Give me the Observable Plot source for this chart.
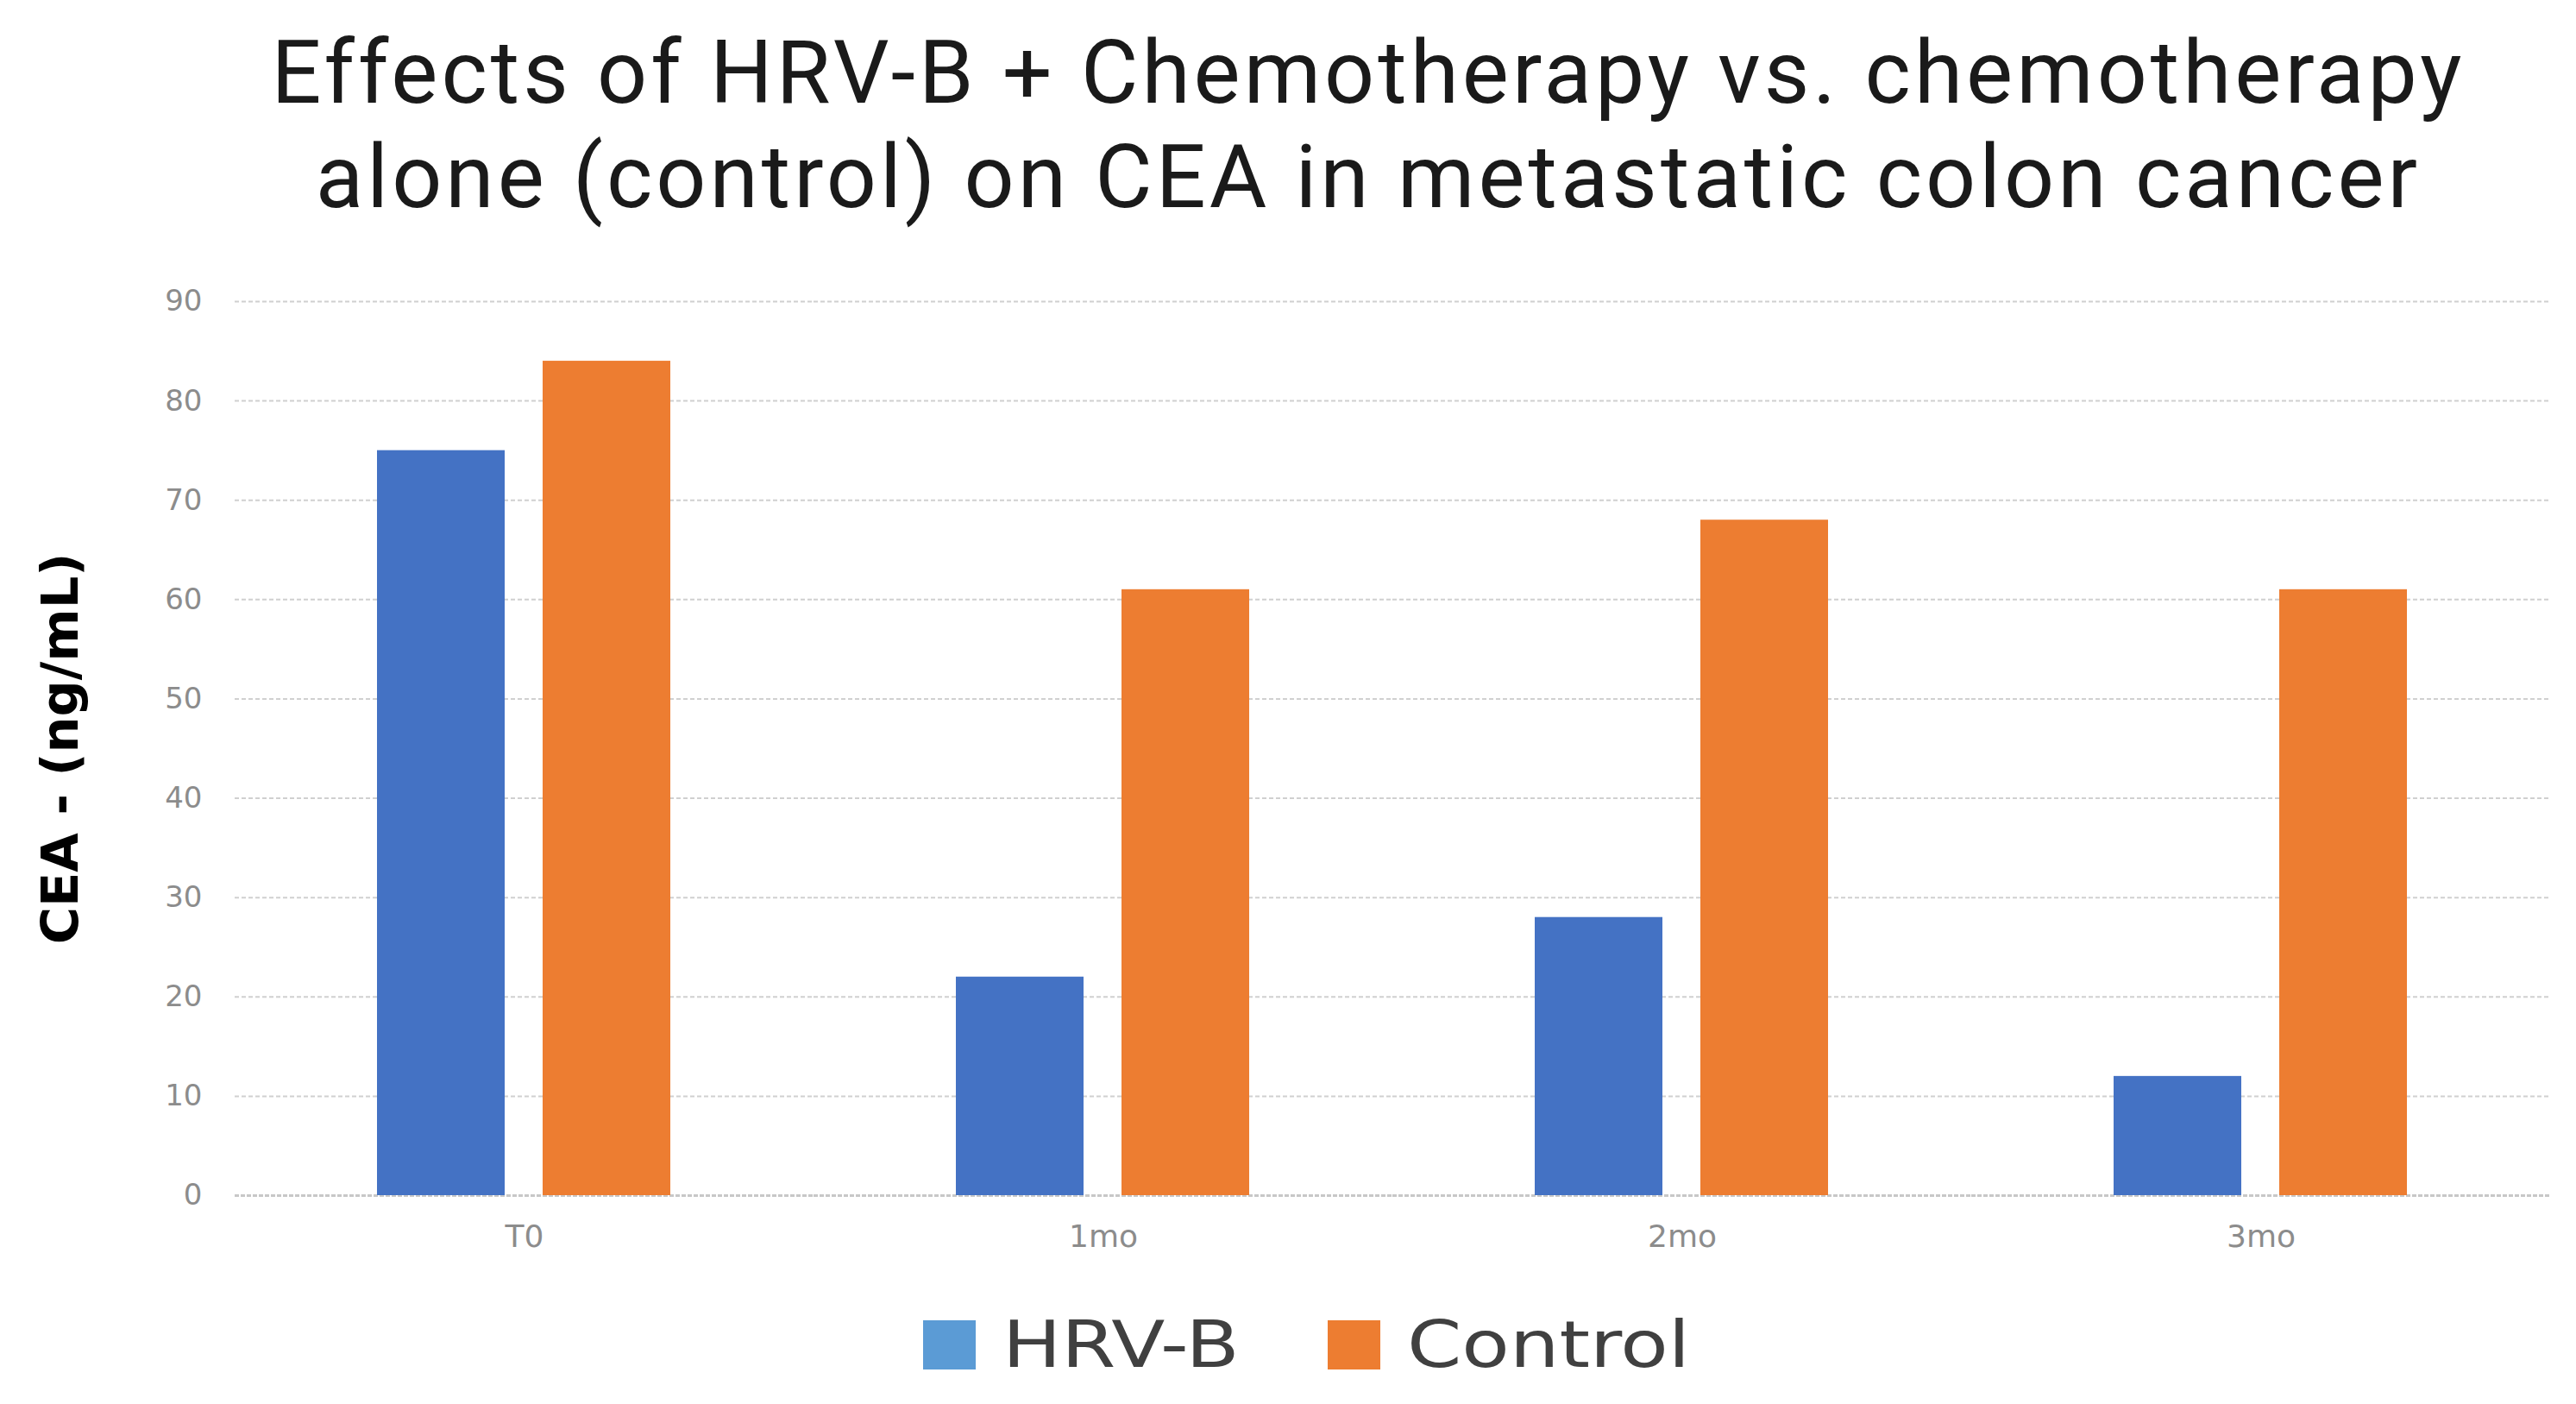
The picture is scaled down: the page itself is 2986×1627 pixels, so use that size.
<!DOCTYPE html>
<html>
<head>
<meta charset="utf-8">
<script src="https://cdn.jsdelivr.net/npm/d3@7"></script>
<script src="https://cdn.jsdelivr.net/npm/@observablehq/plot@0.6"></script>
<style>
  html, body { margin: 0; padding: 0; background: #fff; }
  body { width: 2986px; height: 1627px; overflow: hidden; }
  #title {
    font-family: Roboto, "Open Sans", sans-serif;
    font-size: 102px; line-height: 121px; color: #1a1a1a; letter-spacing: 4px;
    text-align: center; padding-left: 186px; padding-top: 24px; height: 299px; box-sizing: border-box;
    white-space: nowrap;
  }
  #title div { height: 121px; }
  #chart svg { display: block; }
  #legend {
    display: flex; justify-content: flex-start; align-items: center;
    font-family: "DejaVu Sans", Verdana, sans-serif; font-size: 75px; color: #404040;
    padding-left: 1070px; margin-top: 40px;
  }
  .sw { width: 61px; height: 57px; display: inline-block; margin-right: 31px; flex: none; }
  .item { display: flex; align-items: center; }
  .lab { display: inline-block; transform: scaleX(1.21); transform-origin: left center; white-space: nowrap; }
  .item:first-child .lab { margin-right: 150px; }
</style>
</head>
<body>
<div id="title"><div>Effects of HRV-B + Chemotherapy vs. chemotherapy</div><div>alone (control) on CEA in metastatic colon cancer</div></div>
<div id="chart"></div>
<div id="legend"></div>
<script>
const categories = ["T0", "1mo", "2mo", "3mo"];
const series = ["HRV-B", "Control"];
const hrvValues = [75, 22, 28, 12];
const controlValues = [84, 61, 68, 61];
const yTicks = [0, 10, 20, 30, 40, 50, 60, 70, 80, 90];
const barColors = ["#4472C4", "#ED7D31"];
const legendColors = ["#5B9BD5", "#ED7D31"];
const yLabel = "CEA - (ng/mL)";

const data = [];
categories.forEach((c, i) => {
  data.push({time: c, series: series[0], value: hrvValues[i]});
  data.push({time: c, series: series[1], value: controlValues[i]});
});

const chart = Plot.plot({
  width: 2986,
  height: 1175,
  marginLeft: 272,
  marginRight: 30,
  marginTop: 50,
  marginBottom: 89,
  fx: {domain: categories, padding: 0, label: null},
  x: {domain: series, paddingInner: 0.227, paddingOuter: 0.856, axis: null},
  y: {domain: [0, 90], axis: null},
  color: {domain: series, range: barColors},
  marks: [
    Plot.ruleY(yTicks.filter(d => d > 0), {stroke: "#d0d0d0", strokeWidth: 2, strokeDasharray: "5,3"}),
    Plot.ruleY([0], {stroke: "#c8c8c8", strokeWidth: 3, strokeDasharray: "5,2"}),
    Plot.barY(data, {fx: "time", x: "series", y: "value", fill: "series"}),
    Plot.axisY({ticks: yTicks, tickSize: 0, tickPadding: 38, fontSize: 34, fill: "#8c8c8c", label: null, fontFamily: "DejaVu Sans, sans-serif"}),
    Plot.axisY({ticks: [], label: yLabel, labelArrow: "none", labelAnchor: "center", labelOffset: 224, fontSize: 59, fontWeight: "bold", fill: "#000", fontFamily: "DejaVu Sans, Verdana, sans-serif"}),
    Plot.axisFx({anchor: "bottom", tickSize: 0, tickPadding: 34, fontSize: 36, fill: "#8c8c8c", label: null, fontFamily: "DejaVu Sans, sans-serif"})
  ]
});
document.getElementById("chart").appendChild(chart);

const legend = document.getElementById("legend");
series.forEach((s, i) => {
  const item = document.createElement("div");
  item.className = "item";
  const sw = document.createElement("span");
  sw.className = "sw";
  sw.style.background = legendColors[i];
  const t = document.createElement("span");
  t.className = "lab";
  t.textContent = s;
  item.appendChild(sw);
  item.appendChild(t);
  legend.appendChild(item);
});
</script>
</body>
</html>
